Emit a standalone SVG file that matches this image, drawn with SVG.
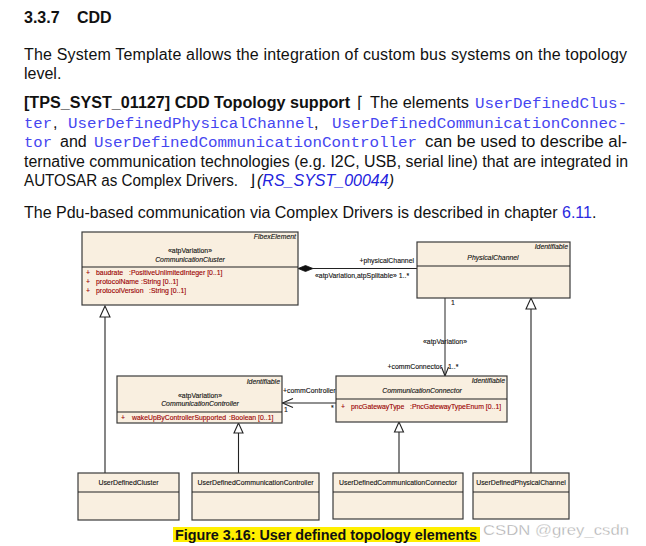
<svg xmlns="http://www.w3.org/2000/svg" width="646" height="546" viewBox="0 0 646 546">
<style>
.t{font-family:"Liberation Sans",Arial,sans-serif;font-size:16px;fill:#111}
.b{font-weight:bold}
.cap{font-size:14px}
.m{font-family:"Liberation Mono","Courier New",monospace;font-size:15.5px;fill:#4646f0}
.box{fill:#f9efe0;stroke:#3a3a3a;stroke-width:1.2}
.u{font-family:"Liberation Sans",Arial,sans-serif;font-size:6.9px;fill:#111;stroke:#111;stroke-width:0.12}
.i{font-style:italic}
.c{text-anchor:middle}
.r{text-anchor:end}
.a{fill:#990000;stroke:#990000}
.ln{stroke:#222;stroke-width:1.1;fill:none}
.gr{stroke:#777;stroke-width:1.6;fill:none}
.tri{fill:#fff;stroke:#222;stroke-width:1.1}
</style>
<rect width="646" height="546" fill="#fff"/>
<g id="text">
<text class="t b" x="24" y="23">3.3.7</text>
<text class="t b" x="77" y="23">CDD</text>
<text class="t" x="24" y="60" textLength="603" lengthAdjust="spacing">The System Template allows the integration of custom bus systems on the topology</text>
<text class="t" x="24" y="79">level.</text>
<text class="t b" x="24" y="108" textLength="326" lengthAdjust="spacingAndGlyphs">[TPS_SYST_01127] CDD Topology support</text>
<text class="t" x="357" y="108">⌈</text>
<text class="t" x="370" y="108" textLength="99" lengthAdjust="spacingAndGlyphs">The elements</text>
<text class="m" x="475" y="108" textLength="152" lengthAdjust="spacingAndGlyphs">UserDefinedClus-</text>
<text class="m" x="24" y="128" textLength="28" lengthAdjust="spacingAndGlyphs">ter</text>
<text class="t" x="53" y="128">,</text>
<text class="m" x="68" y="128" textLength="246" lengthAdjust="spacingAndGlyphs">UserDefinedPhysicalChannel</text>
<text class="t" x="314" y="128">,</text>
<text class="m" x="332" y="128" textLength="295" lengthAdjust="spacingAndGlyphs">UserDefinedCommunicationConnec-</text>
<text class="m" x="24" y="147" textLength="28" lengthAdjust="spacingAndGlyphs">tor</text>
<text class="t" x="60" y="147">and</text>
<text class="m" x="94" y="147" textLength="323" lengthAdjust="spacingAndGlyphs">UserDefinedCommunicationController</text>
<text class="t" x="425" y="147" textLength="202" lengthAdjust="spacingAndGlyphs">can be used to describe al-</text>
<text class="t" x="24" y="167" textLength="604" lengthAdjust="spacingAndGlyphs">ternative communication technologies (e.g. I2C, USB, serial line) that are integrated in</text>
<text class="t" x="24" y="186" textLength="214" lengthAdjust="spacingAndGlyphs">AUTOSAR as Complex Drivers.</text>
<text class="t" x="249" y="186">⌋</text>
<text class="t i" x="257" y="186">(<tspan fill="#2222dd">RS_SYST_00044</tspan>)</text>
<text class="t" x="24" y="218">The Pdu-based communication via Complex Drivers is described in chapter <tspan fill="#2a2ae0">6.11</tspan>.</text>
</g>
<g id="connectors">
<line class="ln" x1="313" y1="268.5" x2="417" y2="268.5"/>
<polygon points="298,268.5 305.5,265.5 313,268.5 305.5,271.5" fill="#111" stroke="#111" stroke-width="0.8"/>
<text class="u r" x="414" y="263">+physicalChannel</text>
<text class="u" x="315" y="277.5">«atpVariation,atpSplitable» 1..*</text>
<line class="gr" x1="445" y1="298" x2="445" y2="376"/>
<polyline class="ln" points="441.5,367 445,376 448.5,367"/>
<text class="u" x="451" y="305" fill="#800000" stroke="#800000">1</text>
<text class="u c" x="445" y="343.5">«atpVariation»</text>
<text class="u r" x="442" y="369">+commConnector</text>
<text class="u" x="448" y="369">1..*</text>
<line class="ln" x1="282" y1="403" x2="336" y2="403"/>
<polyline class="ln" points="293,398.5 282.5,403 293,407.5"/>
<text class="u" x="283" y="393">+commController</text>
<text class="u" x="284" y="412" fill="#3355cc" stroke="#3355cc">1</text>
<text class="u" x="331" y="410">*</text>
<line class="ln" x1="105" y1="317" x2="105" y2="473"/>
<polygon class="tri" points="105,306 100,317 110,317"/>
<line class="ln" x1="238.5" y1="433" x2="238.5" y2="473"/>
<polygon class="tri" points="238.5,423 234,433 243,433"/>
<line class="ln" x1="399" y1="432" x2="399" y2="473"/>
<polygon class="tri" points="399,422 394.5,432 403.5,432"/>
<line class="ln" x1="531" y1="309" x2="531" y2="473"/>
<polygon class="tri" points="531,298 526,309 536,309"/>
</g>
<g id="CommunicationCluster">
<rect class="box" x="82" y="232" width="216" height="73"/>
<line class="ln" x1="82" y1="267" x2="298" y2="267"/>
<text class="u i r" x="296" y="239">FibexElement</text>
<text class="u c" x="190" y="253">«atpVariation»</text>
<text class="u i c" x="190" y="262">CommunicationCluster</text>
<text class="u a" x="86" y="275">+</text><text class="u a" x="96" y="275">baudrate</text><text class="u a" x="129" y="275">:PositiveUnlimitedInteger [0..1]</text>
<text class="u a" x="86" y="284">+</text><text class="u a" x="96" y="284">protocolName</text><text class="u a" x="141" y="284">:String [0..1]</text>
<text class="u a" x="86" y="293">+</text><text class="u a" x="96" y="293">protocolVersion</text><text class="u a" x="149" y="293">:String [0..1]</text>
</g>
<g id="PhysicalChannel">
<rect class="box" x="417" y="242" width="153" height="56"/>
<line class="ln" x1="417" y1="266" x2="570" y2="266"/>
<text class="u i r" x="568" y="249">Identifiable</text>
<text class="u i c" x="493" y="260">PhysicalChannel</text>
</g>
<g id="CommunicationController">
<rect class="box" x="117" y="376" width="165" height="47"/>
<line class="ln" x1="117" y1="412" x2="282" y2="412"/>
<text class="u i r" x="280" y="384">Identifiable</text>
<text class="u c" x="200" y="398">«atpVariation»</text>
<text class="u i c" x="200" y="406">CommunicationController</text>
<text class="u a" x="121" y="420">+</text><text class="u a" x="132" y="420" textLength="94" lengthAdjust="spacingAndGlyphs">wakeUpByControllerSupported</text><text class="u a" x="229" y="420">:Boolean [0..1]</text>
</g>
<g id="CommunicationConnector">
<rect class="box" x="336" y="376" width="171" height="46"/>
<line class="ln" x1="336" y1="399" x2="507" y2="399"/>
<text class="u i r" x="505" y="383">Identifiable</text>
<text class="u i c" x="422" y="393">CommunicationConnector</text>
<text class="u a" x="341" y="409">+</text><text class="u a" x="351" y="409">pncGatewayType</text><text class="u a" x="410" y="409">:PncGatewayTypeEnum [0..1]</text>
</g>
<g id="UserDefinedCluster">
<rect class="box" x="78" y="473" width="101" height="47"/>
<line class="ln" x1="78" y1="492" x2="179" y2="492"/>
<text class="u c" x="128.5" y="485">UserDefinedCluster</text>
</g>
<g id="UserDefinedCommunicationController">
<rect class="box" x="192" y="473" width="127" height="47"/>
<line class="ln" x1="192" y1="492" x2="319" y2="492"/>
<text class="u c" x="255.5" y="485">UserDefinedCommunicationController</text>
</g>
<g id="UserDefinedCommunicationConnector">
<rect class="box" x="333" y="473" width="130" height="46"/>
<line class="ln" x1="333" y1="492" x2="463" y2="492"/>
<text class="u c" x="398" y="485">UserDefinedCommunicationConnector</text>
</g>
<g id="UserDefinedPhysicalChannel">
<rect class="box" x="473" y="473" width="96" height="46"/>
<line class="ln" x1="473" y1="492" x2="569" y2="492"/>
<text class="u c" x="521" y="485">UserDefinedPhysicalChannel</text>
</g>
<g id="caption">
<rect x="173" y="527" width="307" height="15" fill="#ffef00"/>
<text class="t b cap" x="175" y="539.5" textLength="302" lengthAdjust="spacingAndGlyphs">Figure 3.16: User defined topology elements</text>
<text x="483" y="535" font-family="'Liberation Sans',Arial,sans-serif" font-size="15.5" fill="#a8a8a8" stroke="#fff" stroke-width="0.4" textLength="146" lengthAdjust="spacingAndGlyphs">CSDN @grey_csdn</text>
</g>
</svg>
